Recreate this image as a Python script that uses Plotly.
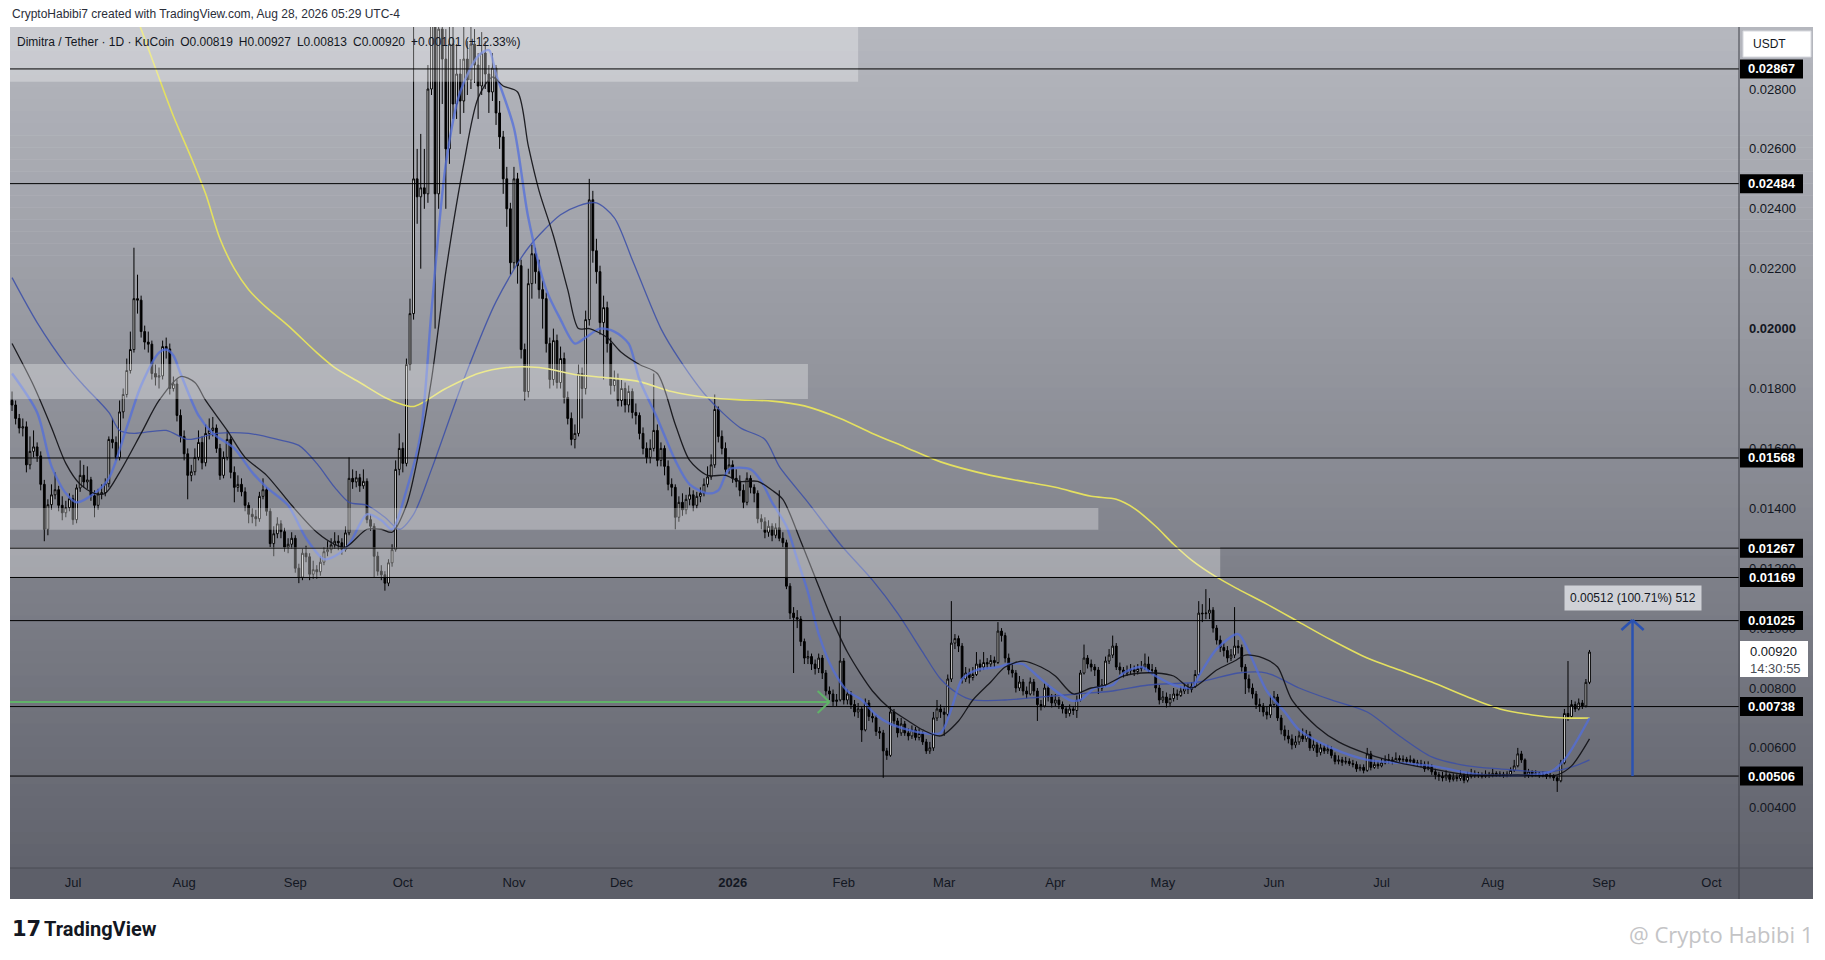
import numpy as np
import pandas as pd
import plotly.graph_objects as go

W, H = 1825, 960                       # browser page
BODY = 8                               # default body margin of the html page
FW, FH = W - 2 * BODY, H - 2 * BODY    # figure size so that page coords line up
PLOT_L, PLOT_R, PLOT_T, PLOT_B = 10, 1739, 27, 868   # chart pane in page pixels
FRAME_R, AXIS_B = 1813, 899
FONT = "Liberation Sans, Arial, sans-serif"
INK = "#131722"

# ---- daily candles, prices in units of 0.00001 USDT, first day 2025-06-14 ----
first_day = "2025-06-14"
first_open = 1760
close_e5 = [
    1745, 1700, 1668, 1672, 1545, 1590, 1605,
    1575, 1480, 1330, 1412, 1445, 1462, 1410,
    1385, 1402, 1432, 1362, 1468, 1510, 1488,
    1495, 1442, 1410, 1448, 1452, 1482, 1630,
    1620, 1570, 1722, 1780, 1860, 1930, 2100,
    2095, 1990, 1955, 1948, 1850, 1838, 1842,
    1940, 1932, 1800, 1815, 1710, 1640, 1582,
    1510, 1522, 1570, 1620, 1552, 1650, 1660,
    1668, 1600, 1510, 1570, 1630, 1520, 1470,
    1480, 1455, 1410, 1380, 1372, 1365, 1440,
    1462, 1390, 1282, 1315, 1348, 1322, 1270,
    1280, 1300, 1200, 1170, 1250, 1238, 1180,
    1195, 1188, 1220, 1255, 1262, 1278, 1290,
    1285, 1262, 1318, 1500, 1488, 1502, 1475,
    1490, 1362, 1340, 1240, 1190, 1178, 1150,
    1218, 1262, 1530, 1600, 1550, 1880, 2050,
    2500, 2440, 2470, 2450, 2800, 3050, 2450,
    3000, 2900, 2600, 2950, 2750, 2850, 2760,
    2900, 2830, 2950, 2880, 2810, 2920, 2850,
    2790, 2870, 2720, 2640, 2500, 2400, 2220,
    2500, 2210, 1930, 1790, 2150, 2250, 2190,
    2130, 2100, 1950, 1830, 1960, 1820, 1900,
    1770, 1700, 1630, 1650, 1850, 1800, 2030,
    2430, 2260, 2190, 2020, 2070, 1950, 1810,
    1830, 1760, 1800, 1745, 1790, 1720, 1710,
    1650, 1600, 1570, 1600, 1660, 1560, 1600,
    1540, 1480, 1470, 1370, 1420, 1395, 1430,
    1445, 1410, 1440, 1450, 1480, 1505, 1545,
    1730, 1640, 1600, 1530, 1545, 1500, 1490,
    1460, 1420, 1500, 1470, 1450, 1365, 1355,
    1320, 1340, 1310, 1335, 1300, 1285, 1140,
    1050, 1035, 1030, 955, 900, 905, 880,
    865, 900, 850, 790, 780, 755, 760,
    890, 760, 780, 745, 720, 730, 660,
    750, 705, 700, 655, 650, 590, 575,
    720, 690, 650, 680, 650, 640, 660,
    635, 648, 620, 590, 600, 700, 730,
    720, 712, 830, 950, 965, 940, 830,
    850, 835, 845, 880, 870, 885, 880,
    892, 885, 990, 975, 900, 860, 850,
    800, 820, 790, 780, 820, 790, 745,
    740, 800, 770, 750, 760, 745, 730,
    715, 730, 725, 760, 850, 900, 880,
    870, 860, 800, 810, 890, 910, 940,
    870, 860, 850, 858, 862, 855, 865,
    870, 880, 860, 860, 800, 760, 770,
    750, 765, 780, 775, 790, 800, 795,
    805, 845, 1050, 1048, 1050, 1060, 1000,
    960, 935, 925, 900, 910, 940, 935,
    870, 830, 800, 780, 745, 740, 720,
    710, 745, 770, 700, 660, 640, 630,
    610, 620, 640, 630, 645, 600, 610,
    585, 600, 590, 595, 575, 555, 560,
    552, 555, 548, 545, 530, 535, 525,
    580, 535, 545, 540, 550, 558, 560,
    555, 565, 560, 562, 555, 560, 550,
    548, 545, 530, 538, 520, 510, 505,
    500, 510, 495, 502, 498, 510, 492,
    505, 515, 508, 510, 505, 512, 508,
    515, 510, 512, 508, 512, 525, 540,
    580, 560, 510, 520, 512, 515, 508,
    512, 505, 508, 500, 490, 550, 715,
    705, 745, 730, 750, 740, 819, 920,
]
high_e5 = [
    1790, 1760, 1715, 1700, 1690, 1640, 1660,
    1620, 1590, 1495, 1430, 1480, 1520, 1475,
    1440, 1425, 1450, 1445, 1480, 1560, 1545,
    1540, 1505, 1460, 1465, 1480, 1500, 1640,
    1700, 1640, 1760, 1800, 1900, 1990, 2270,
    2180, 2110, 2010, 1990, 1960, 1880, 1870,
    1960, 1970, 1950, 1840, 1830, 1730, 1660,
    1600, 1545, 1600, 1660, 1640, 1680, 1700,
    1705, 1680, 1615, 1590, 1660, 1640, 1540,
    1510, 1500, 1470, 1420, 1400, 1395, 1455,
    1500, 1470, 1400, 1340, 1370, 1360, 1335,
    1300, 1320, 1310, 1215, 1265, 1275, 1250,
    1225, 1210, 1240, 1270, 1290, 1300, 1320,
    1310, 1300, 1340, 1570, 1530, 1525, 1515,
    1530, 1500, 1380, 1350, 1255, 1210, 1190,
    1230, 1280, 1560, 1650, 1620, 1900, 2100,
    3150, 2600, 2650, 2600, 2880, 3200, 3150,
    3200, 3150, 3000, 3100, 3050, 2950, 2900,
    3050, 2960, 3050, 3000, 2920, 2990, 2960,
    2880, 2920, 2880, 2760, 2660, 2540, 2420,
    2540, 2520, 2230, 1950, 2200, 2280, 2270,
    2230, 2160, 2120, 1970, 2000, 1980, 1940,
    1920, 1790, 1720, 1680, 1880, 1870, 2060,
    2500, 2460, 2300, 2210, 2110, 2090, 1970,
    1860, 1850, 1830, 1820, 1810, 1800, 1750,
    1720, 1670, 1620, 1630, 1850, 1680, 1620,
    1610, 1560, 1500, 1480, 1440, 1450, 1445,
    1470, 1460, 1455, 1470, 1500, 1540, 1580,
    1780, 1740, 1660, 1620, 1570, 1560, 1530,
    1510, 1480, 1520, 1510, 1480, 1460, 1380,
    1370, 1360, 1350, 1350, 1460, 1320, 1295,
    1150, 1070, 1060, 1040, 965, 925, 915,
    895, 915, 910, 860, 805, 795, 780,
    1040, 900, 795, 790, 760, 750, 740,
    765, 760, 720, 710, 670, 660, 600,
    740, 730, 700, 700, 690, 665, 675,
    670, 665, 655, 630, 620, 720, 760,
    745, 735, 845, 1090, 980, 975, 950,
    870, 865, 870, 920, 895, 920, 900,
    910, 905, 1020, 1000, 985, 915, 880,
    860, 840, 830, 805, 835, 830, 800,
    760, 815, 810, 780, 780, 770, 755,
    740, 745, 740, 775, 860, 945, 910,
    895, 880, 870, 830, 905, 930, 975,
    950, 885, 870, 875, 880, 875, 880,
    890, 915, 905, 880, 870, 810, 790,
    785, 780, 800, 795, 805, 815, 815,
    820, 860, 1090, 1080, 1130, 1100, 1070,
    1010, 975, 950, 940, 930, 1070, 960,
    945, 880, 845, 815, 790, 765, 750,
    740, 775, 790, 780, 710, 675, 660,
    645, 640, 660, 665, 660, 655, 630,
    620, 615, 610, 610, 605, 585, 575,
    570, 570, 565, 560, 555, 545, 545,
    600, 590, 560, 555, 565, 575, 580,
    570, 585, 575, 575, 570, 575, 565,
    560, 560, 555, 555, 545, 530, 520,
    520, 525, 515, 515, 512, 525, 515,
    520, 530, 525, 520, 518, 525, 520,
    530, 522, 522, 520, 522, 535, 560,
    600, 590, 565, 530, 525, 525, 520,
    522, 518, 518, 512, 505, 560, 730,
    890, 760, 755, 765, 760, 830, 927,
]
low_e5 = [
    1725, 1680, 1650, 1640, 1520, 1530, 1570,
    1555, 1460, 1290, 1310, 1395, 1430, 1390,
    1360, 1370, 1390, 1345, 1350, 1455, 1470,
    1465, 1425, 1370, 1395, 1430, 1440, 1470,
    1600, 1560, 1560, 1700, 1770, 1850, 1920,
    2050, 1970, 1930, 1920, 1830, 1810, 1800,
    1830, 1900, 1780, 1790, 1690, 1620, 1560,
    1430, 1490, 1510, 1560, 1530, 1540, 1630,
    1640, 1585, 1495, 1500, 1560, 1500, 1420,
    1455, 1440, 1390, 1350, 1350, 1340, 1355,
    1430, 1375, 1270, 1240, 1300, 1300, 1255,
    1250, 1265, 1185, 1150, 1160, 1220, 1160,
    1165, 1165, 1175, 1210, 1240, 1250, 1265,
    1260, 1245, 1255, 1310, 1465, 1470, 1455,
    1465, 1350, 1325, 1170, 1175, 1160, 1125,
    1140, 1205, 1255, 1510, 1520, 1540, 1860,
    2030, 2350, 2200, 2400, 2420, 2780, 2000,
    2400, 2750, 2400, 2550, 2700, 2700, 2650,
    2720, 2780, 2800, 2820, 2700, 2780, 2800,
    2720, 2760, 2680, 2600, 2450, 2340, 2180,
    2200, 2150, 1900, 1760, 1770, 2100, 2150,
    2100, 2000, 1920, 1800, 1810, 1800, 1800,
    1750, 1680, 1610, 1600, 1640, 1700, 1780,
    2010, 2220, 2150, 1980, 1830, 1920, 1780,
    1790, 1740, 1740, 1720, 1720, 1700, 1680,
    1630, 1580, 1550, 1550, 1590, 1540, 1540,
    1510, 1460, 1440, 1330, 1355, 1375, 1380,
    1410, 1390, 1400, 1420, 1440, 1470, 1495,
    1535, 1620, 1580, 1510, 1515, 1485, 1470,
    1440, 1400, 1410, 1450, 1420, 1350, 1330,
    1300, 1305, 1290, 1300, 1290, 1270, 1130,
    1030, 850, 1000, 940, 880, 880, 860,
    845, 850, 830, 775, 760, 740, 740,
    755, 745, 745, 730, 705, 700, 620,
    655, 690, 685, 640, 630, 500, 560,
    570, 675, 635, 640, 640, 625, 630,
    625, 625, 610, 580, 580, 590, 690,
    700, 640, 705, 820, 930, 920, 815,
    820, 815, 825, 840, 855, 860, 865,
    870, 870, 880, 955, 885, 845, 835,
    785, 790, 775, 765, 775, 775, 690,
    725, 735, 755, 735, 740, 730, 715,
    700, 705, 710, 700, 755, 845, 865,
    855, 840, 780, 790, 805, 880, 900,
    860, 845, 835, 840, 845, 840, 845,
    855, 860, 850, 845, 785, 745, 750,
    735, 740, 755, 760, 770, 780, 780,
    785, 800, 840, 1020, 1030, 1030, 985,
    945, 920, 905, 885, 890, 900, 915,
    855, 780, 785, 765, 730, 720, 705,
    695, 700, 735, 690, 645, 625, 615,
    595, 600, 610, 620, 620, 590, 590,
    570, 575, 580, 580, 565, 545, 545,
    540, 545, 540, 535, 520, 522, 515,
    520, 525, 530, 530, 535, 545, 548,
    545, 550, 550, 550, 545, 548, 540,
    538, 535, 520, 525, 510, 495, 490,
    488, 490, 485, 488, 488, 490, 482,
    485, 498, 500, 500, 498, 500, 500,
    502, 503, 503, 500, 502, 505, 520,
    535, 550, 500, 500, 502, 505, 500,
    502, 496, 498, 490, 453, 485, 545,
    690, 700, 720, 725, 730, 735, 813,
]

# ---- moving averages: day offset from 2025-07-01, value in 0.00001 ----
ma_base = "2025-07-01"
yellow_days = [17, 19, 23, 28, 33, 37, 41, 45, 49, 54, 60, 68, 73, 80, 87, 91, 95, 104, 113, 121,
               130, 141, 150, 158, 167, 177, 186, 195, 204, 214, 223, 232, 242, 256, 265, 274, 284,
               291, 296, 302, 307, 312, 319, 325, 333, 342, 351, 361, 370, 379, 389, 398, 407, 416, 423]
yellow_e5 = [3060, 3000, 2870, 2710, 2570, 2450, 2300, 2200, 2130, 2070, 2010, 1920, 1870, 1820,
             1770, 1750, 1740, 1800, 1850, 1870, 1870, 1845, 1835, 1823, 1790, 1770, 1762, 1758,
             1742, 1700, 1650, 1605, 1555, 1510, 1490, 1470, 1440, 1430, 1400, 1340, 1280, 1227,
             1170, 1130, 1080, 1020, 960, 900, 860, 820, 770, 730, 710, 700, 700]
black_days = [-17, -11, -6, -2, 2, 6, 9, 13, 19, 24, 30, 34, 37, 43, 48, 54, 61, 68, 73, 76, 82, 86,
              89, 93, 96, 100, 104, 109, 113, 117, 120, 124, 127, 130, 134, 138, 141, 144, 149, 153,
              158, 163, 168, 172, 177, 182, 186, 191, 195, 198, 203, 207, 211, 216, 223, 228, 233,
              237, 242, 247, 251, 256, 260, 265, 270, 274, 279, 284, 288, 293, 298, 302, 307, 312,
              319, 324, 327, 332, 336, 340, 347, 353, 361, 370, 379, 389, 403, 414, 418, 423]
black_e5 = [1950, 1810, 1670, 1550, 1480, 1450, 1450, 1520, 1650, 1760, 1840, 1820, 1760, 1660,
            1570, 1510, 1410, 1320, 1280, 1270, 1330, 1330, 1320, 1410, 1560, 1830, 2190, 2550,
            2770, 2840, 2810, 2790, 2610, 2460, 2310, 2130, 2000, 2000, 1970, 1920, 1880, 1850,
            1680, 1560, 1510, 1510, 1490, 1490, 1460, 1430, 1290, 1170, 1050, 920, 790, 730, 690,
            660, 640, 690, 760, 820, 870, 890, 870, 840, 780, 800, 810, 840, 850, 850, 840, 800,
            860, 890, 910, 900, 870, 760, 670, 620, 580, 550, 530, 510, 510, 510, 540, 630]
fast_days = [-17, -10, -6, -2, 1, 6, 10, 15, 19, 24, 26, 28, 30, 35, 39, 45, 50, 54, 60, 65, 70, 73,
             77, 82, 86, 89, 93, 97, 100, 104, 108, 113, 116, 118, 123, 127, 132, 136, 140, 143,
             147, 151, 155, 158, 163, 168, 172, 177, 180, 183, 189, 192, 195, 199, 202, 205, 208,
             212, 216, 220, 224, 228, 233, 237, 242, 245, 248, 252, 258, 261, 265, 269, 273, 278,
             281, 285, 290, 293, 298, 302, 307, 312, 314, 319, 325, 328, 333, 338, 342, 351, 361,
             370, 379, 393, 412, 416, 423]
fast_e5 = [1850, 1720, 1540, 1450, 1420, 1450, 1500, 1670, 1810, 1920, 1930, 1910, 1850, 1710,
           1650, 1600, 1520, 1470, 1410, 1300, 1230, 1240, 1280, 1380, 1360, 1330, 1460, 1650,
           2060, 2550, 2790, 2910, 2930, 2850, 2670, 2370, 2130, 2030, 1950, 1970, 2000, 1990,
           1950, 1830, 1700, 1560, 1480, 1450, 1460, 1530, 1530, 1490, 1420, 1340, 1230, 1120,
           980, 860, 790, 760, 710, 680, 660, 650, 650, 730, 830, 860, 870, 880, 880, 840, 800,
           760, 760, 800, 810, 850, 870, 840, 810, 800, 840, 930, 980, 920, 790, 720, 660, 600,
           560, 550, 540, 510, 520, 560, 700]
slow_days = [-17, -10, -2, 3, 10, 13, 17, 26, 32, 40, 49, 57, 63, 68, 73, 77, 82, 87, 91, 95, 100,
             109, 118, 127, 136, 141, 146, 151, 156, 164, 169, 177, 186, 193, 197, 205, 214, 223,
             230, 237, 242, 247, 251, 260, 270, 280, 290, 300, 314, 325, 333, 342, 351, 361, 370,
             379, 389, 398, 412, 419, 423]
slow_e5 = [2170, 2020, 1880, 1810, 1720, 1660, 1650, 1660, 1630, 1650, 1650, 1630, 1610, 1550,
           1470, 1420, 1410, 1370, 1330, 1380, 1530, 1830, 2090, 2270, 2380, 2410, 2420, 2370,
           2230, 2000, 1900, 1770, 1670, 1630, 1540, 1420, 1280, 1160, 1050, 920, 830, 780, 760,
           760, 770, 780, 790, 810, 820, 850, 850, 800, 760, 720, 640, 570, 540, 530, 520, 540, 560]

# ---- drawings ----
levels = [0.02867, 0.02484, 0.01568, 0.01267, 0.01169, 0.01025, 0.00738, 0.00506]
zones = [  # (end date, low, high)
    ("2026-02-05", 0.02824, 0.03100),
    ("2026-01-22", 0.01765, 0.01882),
    ("2026-04-13", 0.01328, 0.01401),
    ("2026-05-17", 0.01171, 0.01271),
]
green_level, green_end = 0.00753, "2026-01-28"
arrow_date, arrow_from, arrow_to = "2026-09-09", 0.00506, 0.01027
measure_text, measure_price = "0.00512 (100.71%) 512", 0.01100
last_price, countdown = "0.00920", "14:30:55"

month_ticks = pd.date_range("2025-07-01", "2026-10-01", freq="MS")
month_names = ["Jul", "Aug", "Sep", "Oct", "Nov", "Dec", "<b>2026</b>", "Feb", "Mar", "Apr",
               "May", "Jun", "Jul", "Aug", "Sep", "Oct"]
price_ticks = [0.004, 0.006, 0.008, 0.010, 0.012, 0.014, 0.016, 0.018, 0.020, 0.022, 0.024,
               0.026, 0.028]

# ---- build series ----
days = pd.date_range(first_day, periods=len(close_e5), freq="D")
c = np.array(close_e5) / 1e5
o = np.concatenate([[first_open], close_e5[:-1]]) / 1e5
hi = np.maximum(np.array(high_e5) / 1e5, np.maximum(o, c))
lo = np.minimum(np.array(low_e5) / 1e5, np.minimum(o, c))

base = pd.Timestamp(ma_base)
def ma_x(d):
    return base + pd.to_timedelta(np.array(d, dtype=float), unit="D")

# page pixel -> paper coordinates (paper = the plot area)
def px(x):
    return (x - PLOT_L) / (PLOT_R - PLOT_L)

def py(y):
    return (PLOT_B - y) / (PLOT_B - PLOT_T)

y_lo, y_hi = 0.00199, 0.03007
px_per_price = (PLOT_B - PLOT_T) / (y_hi - y_lo)
x_range = [base + pd.Timedelta(days=-17.57), base + pd.Timedelta(days=464.7)]

fig = go.Figure()
fig.add_trace(go.Candlestick(
    x=days, open=o, high=hi, low=lo, close=c,
    increasing=dict(line=dict(color="#000000", width=1), fillcolor="#ffffff"),
    decreasing=dict(line=dict(color="#000000", width=1), fillcolor="#000000"),
    whiskerwidth=0, hoverinfo="skip", showlegend=False,
))
for d, v, col, wd in [
    (slow_days, slow_e5, "rgba(58,78,168,0.85)", 1.3),
    (yellow_days, yellow_e5, "rgb(228,224,96)", 1.6),
    (fast_days, fast_e5, "rgba(82,110,220,0.75)", 2.4),
    (black_days, black_e5, "rgba(15,15,20,0.9)", 1.3),
]:
    fig.add_trace(go.Scatter(x=ma_x(d), y=np.array(v) / 1e5, mode="lines",
                             line=dict(color=col, width=wd, shape="spline", smoothing=0.8),
                             hoverinfo="skip", showlegend=False))

shapes = []
# background gradient of the chart pane (incl. price scale)
n = 70
top_rgb, bot_rgb = np.array([182, 184, 191]), np.array([97, 99, 109])
for i in range(n):
    t = (i + 0.5) / n
    rgb = (top_rgb + (bot_rgb - top_rgb) * t).astype(int)
    ya = PLOT_T + (PLOT_B - PLOT_T) * i / n
    yb = PLOT_T + (PLOT_B - PLOT_T) * (i + 1) / n + 0.6
    shapes.append(dict(type="rect", xref="paper", yref="paper", layer="below",
                       x0=px(PLOT_L), x1=px(FRAME_R), y0=py(yb), y1=py(ya),
                       fillcolor=f"rgb({rgb[0]},{rgb[1]},{rgb[2]})", line=dict(width=0)))
# time scale strip
shapes.append(dict(type="rect", xref="paper", yref="paper", layer="below",
                   x0=px(PLOT_L), x1=px(FRAME_R), y0=py(AXIS_B), y1=py(PLOT_B),
                   fillcolor="rgb(93,95,105)", line=dict(width=0)))
# highlight zones (drawn over the candles)
for end, zlo, zhi in zones:
    shapes.append(dict(type="rect", xref="x", yref="y", layer="above",
                       x0=x_range[0] - pd.Timedelta(days=3), x1=end, y0=zlo, y1=zhi,
                       fillcolor="rgba(255,255,255,0.30)", line=dict(width=0)))
# horizontal levels
for lv in levels:
    shapes.append(dict(type="line", xref="x domain", yref="y", layer="above",
                       x0=0, x1=1, y0=lv, y1=lv, line=dict(color="#000000", width=1)))
# green arrow
g_end = pd.Timestamp(green_end)
dy = 11 / px_per_price
shapes.append(dict(type="line", xref="x", yref="y", layer="above",
                   x0=x_range[0] - pd.Timedelta(days=3), x1=g_end, y0=green_level, y1=green_level,
                   line=dict(color="rgb(96,178,104)", width=2)))
for s in (1, -1):
    shapes.append(dict(type="line", xref="x", yref="y", layer="above",
                       x0=g_end - pd.Timedelta(days=3.3), x1=g_end,
                       y0=green_level + s * dy, y1=green_level,
                       line=dict(color="rgb(96,178,104)", width=2)))
# blue measurement arrow
a_x = pd.Timestamp(arrow_date)
shapes.append(dict(type="line", xref="x", yref="y", layer="above",
                   x0=a_x, x1=a_x, y0=arrow_from, y1=arrow_to,
                   line=dict(color="rgb(42,82,178)", width=2.5)))
for s in (1, -1):
    shapes.append(dict(type="line", xref="x", yref="y", layer="above",
                       x0=a_x + s * pd.Timedelta(days=3.1), x1=a_x,
                       y0=arrow_to - 10 / px_per_price, y1=arrow_to,
                       line=dict(color="rgb(42,82,178)", width=2.5)))
# price-scale separator and time-scale border
shapes.append(dict(type="line", xref="paper", yref="paper", layer="above",
                   x0=px(PLOT_R), x1=px(PLOT_R), y0=py(AXIS_B), y1=py(PLOT_T),
                   line=dict(color="rgb(62,64,72)", width=1)))
shapes.append(dict(type="line", xref="paper", yref="paper", layer="above",
                   x0=px(PLOT_L), x1=px(FRAME_R), y0=py(PLOT_B), y1=py(PLOT_B),
                   line=dict(color="rgb(74,76,85)", width=1)))

annotations = []
# level labels on the price scale
half = 9.5 / px_per_price
for lv in levels:
    shapes.append(dict(type="rect", xref="paper", yref="y", layer="above",
                       x0=px(1740), x1=px(1803), y0=lv - half, y1=lv + half,
                       fillcolor="#000000", line=dict(width=0)))
    annotations.append(dict(xref="paper", yref="y", x=px(1771.5), y=lv, text=f"<b>{lv:.5f}</b>",
                            showarrow=False, xanchor="center", yanchor="middle",
                            font=dict(family=FONT, size=13, color="#ffffff")))
# last price label
shapes.append(dict(type="rect", xref="paper", yref="paper", layer="above",
                   x0=px(1740), x1=px(1808), y0=py(677), y1=py(641),
                   fillcolor="#ffffff", line=dict(width=0)))
annotations.append(dict(xref="paper", yref="paper", x=px(1748), y=py(651), text=last_price,
                        showarrow=False, xanchor="left", yanchor="middle",
                        font=dict(family=FONT, size=13, color=INK)))
annotations.append(dict(xref="paper", yref="paper", x=px(1748), y=py(668), text=countdown,
                        showarrow=False, xanchor="left", yanchor="middle",
                        font=dict(family=FONT, size=13, color="#4a4d57")))
# currency box
shapes.append(dict(type="rect", xref="paper", yref="paper", layer="above",
                   x0=px(1743), x1=px(1811), y0=py(57), y1=py(31),
                   fillcolor="#ffffff", line=dict(color="#d6d8de", width=1)))
annotations.append(dict(xref="paper", yref="paper", x=px(1751), y=py(44), text="USDT",
                        showarrow=False, xanchor="left", yanchor="middle",
                        font=dict(family=FONT, size=12, color=INK)))
# measurement label
annotations.append(dict(xref="x", yref="y", x=a_x, y=measure_price, text=measure_text,
                        showarrow=False, xanchor="center", yanchor="middle",
                        bgcolor="rgba(214,216,221,0.92)", borderpad=5,
                        font=dict(family=FONT, size=12, color=INK)))
# symbol legend line
sp = "\u2002"
legend_txt = (f"Dimitra / Tether · 1D · KuCoin{sp}O0.00819{sp}H0.00927{sp}"
              f"L0.00813{sp}C0.00920{sp}+0.00101 (+12.33%)")
annotations.append(dict(xref="paper", yref="paper", x=px(15), y=py(42), text=legend_txt,
                        showarrow=False, xanchor="left", yanchor="middle",
                        font=dict(family=FONT, size=12, color=INK)))
# page texts
annotations.append(dict(xref="paper", yref="paper", x=px(10), y=py(14),
                        text="CryptoHabibi7 created with TradingView.com, Aug 28, 2026 05:29 UTC-4",
                        showarrow=False, xanchor="left", yanchor="middle",
                        font=dict(family=FONT, size=12, color="#2a2e39")))
annotations.append(dict(xref="paper", yref="paper", x=px(10), y=py(929), text="<b>17</b>",
                        showarrow=False, xanchor="left", yanchor="middle",
                        font=dict(family="DejaVu Sans, sans-serif", size=21, color=INK)))
annotations.append(dict(xref="paper", yref="paper", x=px(42), y=py(929), text="<b>TradingView</b>",
                        showarrow=False, xanchor="left", yanchor="middle",
                        font=dict(family="Roboto, Liberation Sans, sans-serif", size=20, color=INK)))
annotations.append(dict(xref="paper", yref="paper", x=px(1815), y=py(934),
                        text="@ Crypto Habibi 1", showarrow=False, xanchor="right", yanchor="middle",
                        font=dict(family="Open Sans, Noto Sans, sans-serif", size=22,
                                  color="rgb(196,196,198)")))

fig.update_layout(
    width=FW, height=FH, autosize=False,
    margin=dict(l=PLOT_L - BODY, r=FW - (PLOT_R - BODY), t=PLOT_T - BODY,
                b=FH - (PLOT_B - BODY), pad=0),
    paper_bgcolor="#ffffff", plot_bgcolor="rgba(0,0,0,0)",
    showlegend=False, shapes=shapes, annotations=annotations,
    xaxis=dict(type="date", range=x_range, showgrid=False, zeroline=False, showline=False,
               automargin=False,
               rangeslider=dict(visible=False), tickvals=month_ticks, ticktext=month_names,
               ticks="", ticklabelstandoff=5,
               tickfont=dict(family="Liberation Sans Narrow, Liberation Sans, sans-serif",
                             size=13, color=INK), fixedrange=True),
    yaxis=dict(side="right", range=[y_lo, y_hi], showgrid=False, zeroline=False, showline=False,
               automargin=False, tickvals=price_ticks,
               ticktext=[f"<b>{v:.5f}</b>" if abs(v - 0.02) < 1e-9 else f"{v:.5f}" for v in price_ticks],
               ticks="", ticklabelstandoff=9,
               tickfont=dict(family=FONT, size=13, color=INK), fixedrange=True),
)

fig.write_html("out.html")
